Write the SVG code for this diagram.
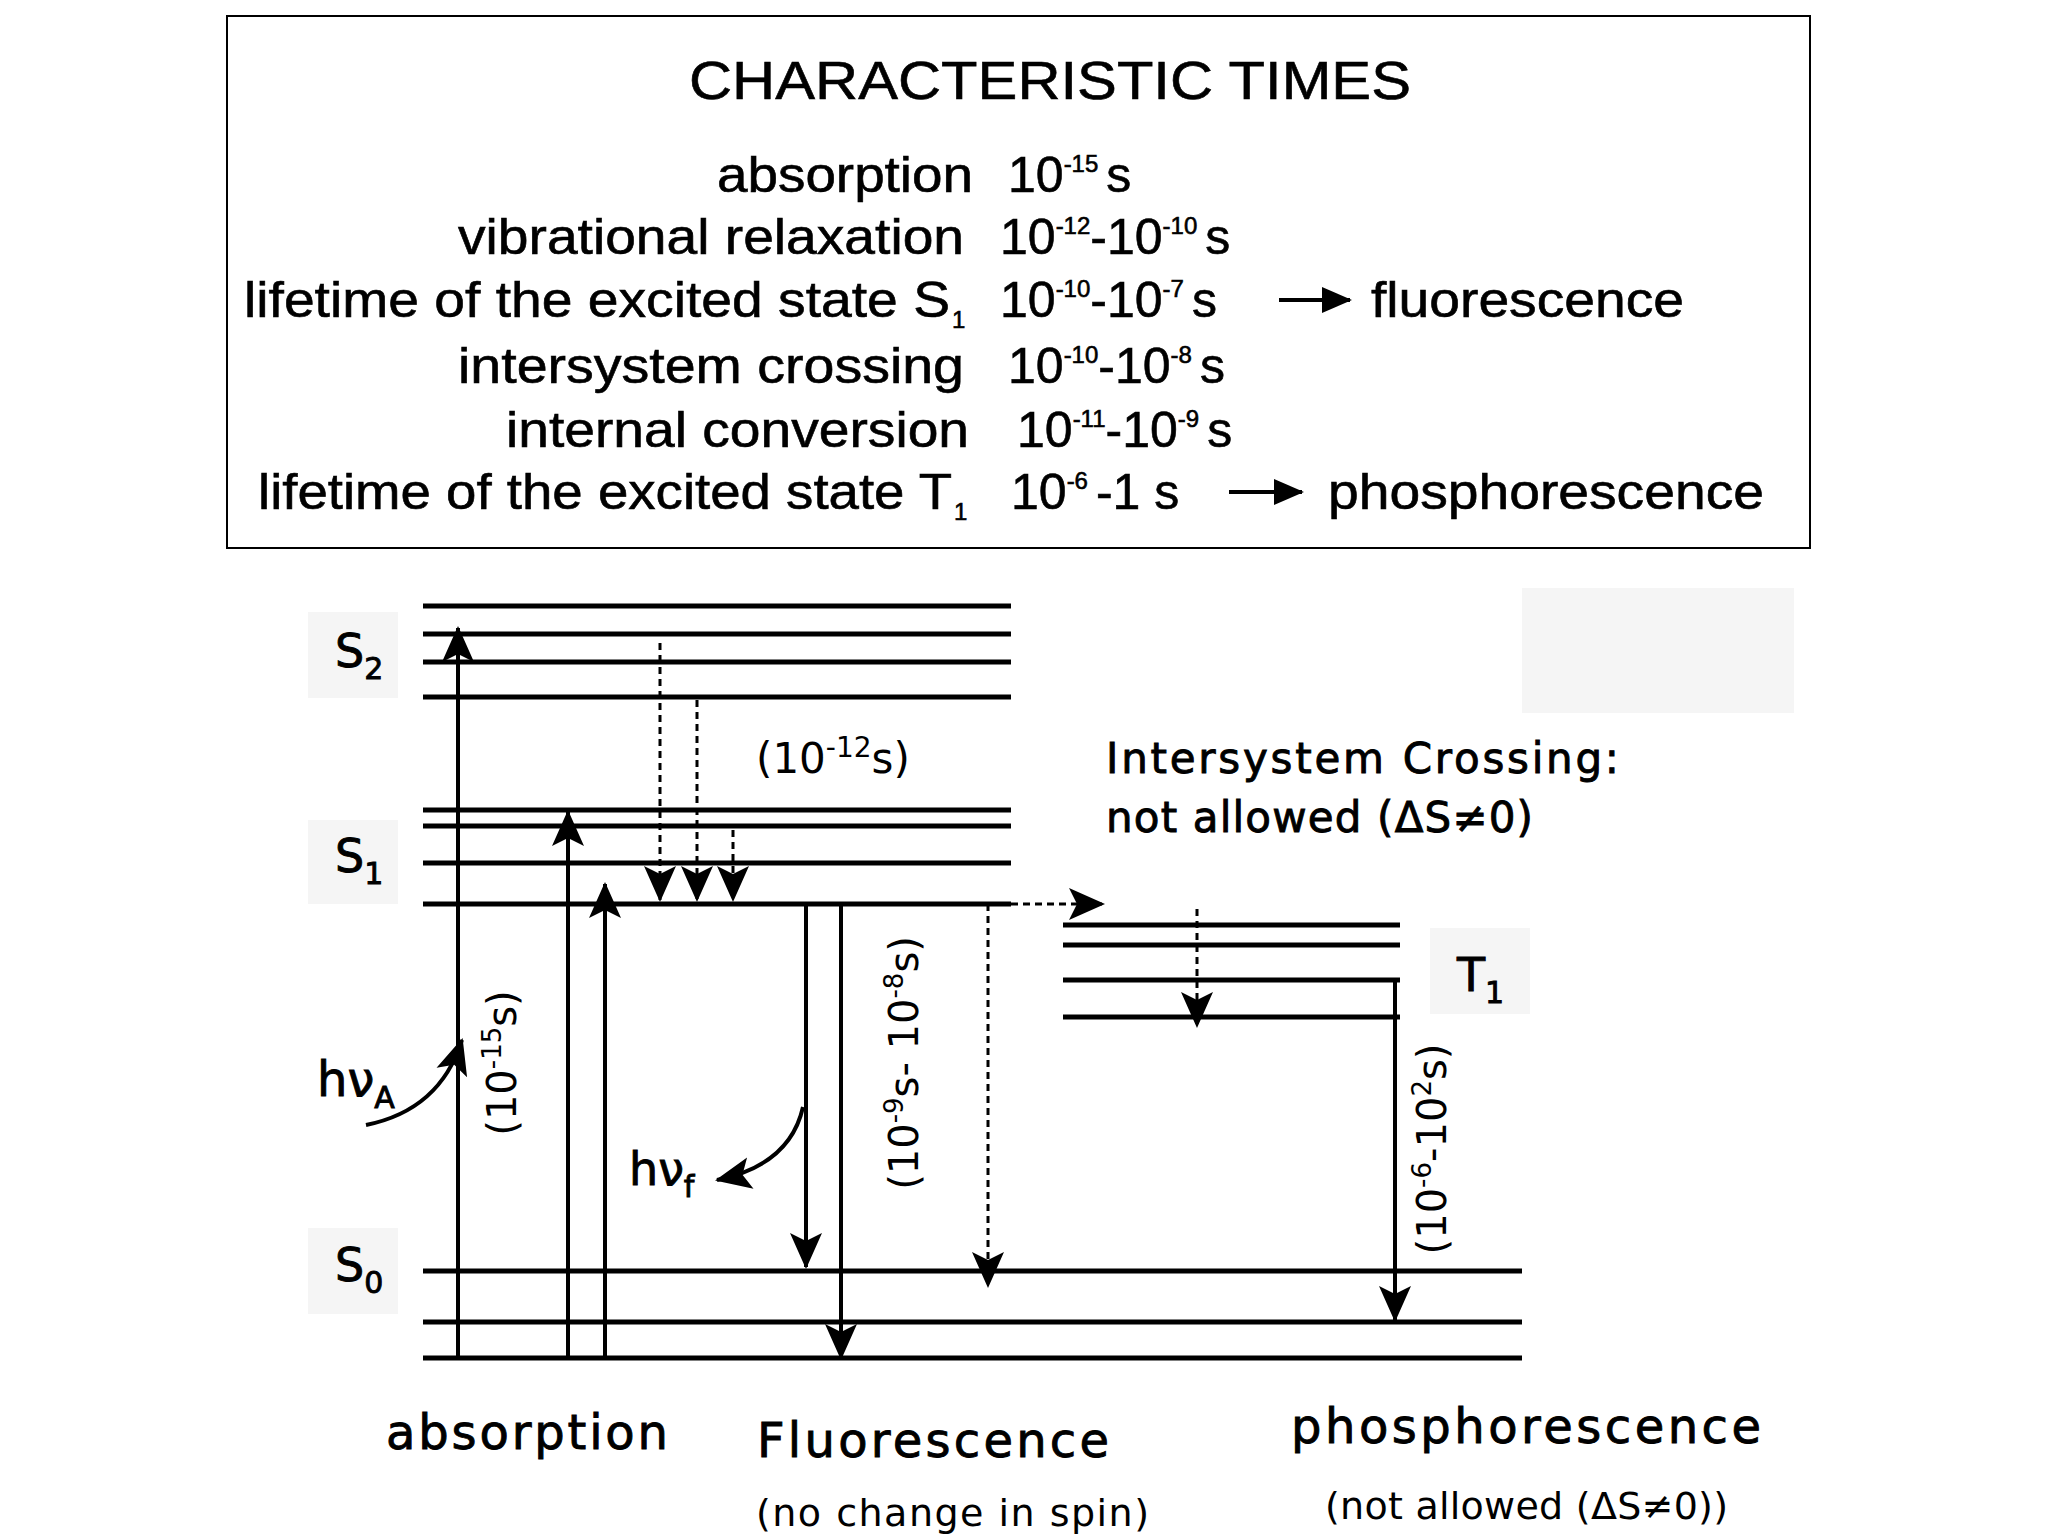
<svg xmlns="http://www.w3.org/2000/svg" width="2048" height="1536" viewBox="0 0 2048 1536">
<defs>
<style>
.t{font-family:"Liberation Sans",Arial,sans-serif;font-size:50px;fill:#000;stroke:#000;stroke-width:0.6}
.d{font-family:"DejaVu Sans",Verdana,sans-serif;fill:#000}
.b{stroke:#000;stroke-width:0.9}
.lv{stroke:#000;stroke-width:5;fill:none}
.ar{stroke:#000;stroke-width:4;fill:none}
.dt{stroke:#000;stroke-width:3;fill:none;stroke-dasharray:7 5}
.bg{fill:#f5f5f5}
</style>
<marker id="ah" viewBox="0 0 36 32" refX="34" refY="16" markerWidth="36" markerHeight="32" markerUnits="userSpaceOnUse" orient="auto" overflow="visible">
<path d="M0,0 L36,16 L0,32 L8,16 z" fill="#000"/>
</marker>
<marker id="ah2" viewBox="0 0 30 26" refX="28" refY="13" markerWidth="30" markerHeight="26" markerUnits="userSpaceOnUse" orient="auto" overflow="visible">
<path d="M0,0 L30,13 L0,26 z" fill="#000"/>
</marker>
</defs>
<rect width="2048" height="1536" fill="#fff"/>
<g id="table">
<rect x="227" y="16" width="1583" height="532" fill="none" stroke="#000" stroke-width="2"/>
<text class="t" x="689" y="99" style="font-size:54px" textLength="722" lengthAdjust="spacingAndGlyphs">CHARACTERISTIC TIMES</text>
<text class="t" x="717" y="192" textLength="256" lengthAdjust="spacingAndGlyphs">absorption</text>
<text class="t" x="1008" y="192">10<tspan font-size="24" dy="-20">-15</tspan><tspan dy="20" dx="8">s</tspan></text>
<text class="t" x="458" y="254" textLength="506" lengthAdjust="spacingAndGlyphs">vibrational relaxation</text>
<text class="t" x="1000" y="254">10<tspan font-size="24" dy="-20">-12</tspan><tspan dy="20">-10</tspan><tspan font-size="24" dy="-20">-10</tspan><tspan dy="20" dx="8">s</tspan></text>
<text class="t" x="244" y="317" textLength="706" lengthAdjust="spacingAndGlyphs">lifetime of the excited state S</text>
<text class="t" x="952" y="328" style="font-size:24px">1</text>
<text class="t" x="1000" y="317">10<tspan font-size="24" dy="-20">-10</tspan><tspan dy="20">-10</tspan><tspan font-size="24" dy="-20">-7</tspan><tspan dy="20" dx="8">s</tspan></text>
<text class="t" x="1371" y="317" textLength="313" lengthAdjust="spacingAndGlyphs">fluorescence</text>
<text class="t" x="458" y="383" textLength="506" lengthAdjust="spacingAndGlyphs">intersystem crossing</text>
<text class="t" x="1008" y="383">10<tspan font-size="24" dy="-20">-10</tspan><tspan dy="20">-10</tspan><tspan font-size="24" dy="-20">-8</tspan><tspan dy="20" dx="8">s</tspan></text>
<text class="t" x="506" y="447" textLength="463" lengthAdjust="spacingAndGlyphs">internal conversion</text>
<text class="t" x="1017" y="447">10<tspan font-size="24" dy="-20">-11</tspan><tspan dy="20">-10</tspan><tspan font-size="24" dy="-20">-9</tspan><tspan dy="20" dx="8">s</tspan></text>
<text class="t" x="258" y="509" textLength="694" lengthAdjust="spacingAndGlyphs">lifetime of the excited state T</text>
<text class="t" x="954" y="520" style="font-size:24px">1</text>
<text class="t" x="1011" y="509">10<tspan font-size="24" dy="-20">-6</tspan><tspan dy="20" dx="8">-1 s</tspan></text>
<text class="t" x="1328" y="509" textLength="436" lengthAdjust="spacingAndGlyphs">phosphorescence</text>
<line class="ar" x1="1279" y1="300" x2="1350" y2="300" stroke-width="5" marker-end="url(#ah2)"/>
<line class="ar" x1="1229" y1="492" x2="1302" y2="492" stroke-width="5" marker-end="url(#ah2)"/>
</g>
<g id="backgrounds">
<rect class="bg" x="308" y="612" width="90" height="86"/>
<rect class="bg" x="308" y="820" width="90" height="84"/>
<rect class="bg" x="308" y="1228" width="90" height="86"/>
<rect class="bg" x="1430" y="928" width="100" height="86"/>
<rect class="bg" x="1522" y="588" width="272" height="125" fill="#fafafa"/>
</g>
<g id="levels">
<line class="lv" x1="423" y1="606" x2="1011" y2="606"/>
<line class="lv" x1="423" y1="634" x2="1011" y2="634"/>
<line class="lv" x1="423" y1="662" x2="1011" y2="662"/>
<line class="lv" x1="423" y1="697" x2="1011" y2="697"/>
<line class="lv" x1="423" y1="810" x2="1011" y2="810"/>
<line class="lv" x1="423" y1="826" x2="1011" y2="826"/>
<line class="lv" x1="423" y1="863" x2="1011" y2="863"/>
<line class="lv" x1="423" y1="904" x2="1011" y2="904"/>
<line class="lv" x1="423" y1="1271" x2="1522" y2="1271"/>
<line class="lv" x1="423" y1="1322" x2="1522" y2="1322"/>
<line class="lv" x1="423" y1="1358" x2="1522" y2="1358"/>
<line class="lv" x1="1063" y1="925" x2="1400" y2="925"/>
<line class="lv" x1="1063" y1="945" x2="1400" y2="945"/>
<line class="lv" x1="1063" y1="980" x2="1400" y2="980"/>
<line class="lv" x1="1063" y1="1017" x2="1400" y2="1017"/>
</g>
<g id="labels">
<text class="d b" x="335" y="667" font-size="46">S<tspan font-size="30" dy="12">2</tspan></text>
<text class="d b" x="335" y="872" font-size="46">S<tspan font-size="30" dy="12">1</tspan></text>
<text class="d b" x="335" y="1281" font-size="46">S<tspan font-size="30" dy="12">0</tspan></text>
<text class="d b" x="1457" y="991" font-size="46">T<tspan font-size="30" dy="12">1</tspan></text>
<text class="d b" x="317" y="1096" font-size="48">hν<tspan font-size="30" dy="12">A</tspan></text>
<text class="d b" x="629" y="1185" font-size="46">hν<tspan font-size="30" dy="12">f</tspan></text>
<text class="d" x="756" y="773" font-size="42">(10<tspan font-size="28" dy="-16">-12</tspan><tspan dy="16">s)</tspan></text>
<text class="d b" x="1106" y="773" font-size="42" textLength="513">Intersystem Crossing:</text>
<text class="d b" x="1106" y="832" font-size="42" textLength="427">not allowed (ΔS≠0)</text>
<text class="d" font-size="40" transform="translate(516,1063) rotate(-90)" text-anchor="middle">(10<tspan font-size="26" dy="-15">-15</tspan><tspan dy="15">s)</tspan></text>
<text class="d" font-size="40" transform="translate(918,1063) rotate(-90)" text-anchor="middle">(10<tspan font-size="26" dy="-15">-9</tspan><tspan dy="15">s- 10</tspan><tspan font-size="26" dy="-15">-8</tspan><tspan dy="15">s)</tspan></text>
<text class="d" font-size="40" transform="translate(1446,1149) rotate(-90)" text-anchor="middle">(10<tspan font-size="26" dy="-15">-6</tspan><tspan dy="15">-10</tspan><tspan font-size="26" dy="-15">2</tspan><tspan dy="15">s)</tspan></text>
<text class="d b" x="386" y="1449" font-size="48" textLength="282">absorption</text>
<text class="d b" x="757" y="1457" font-size="48" textLength="352">Fluorescence</text>
<text class="d" x="756" y="1526" font-size="38" textLength="393">(no change in spin)</text>
<text class="d b" x="1291" y="1443" font-size="48" textLength="470">phosphorescence</text>
<text class="d" x="1325" y="1519" font-size="38" textLength="403">(not allowed (ΔS≠0))</text>
</g>
<g id="connectors">
<line class="ar" x1="458" y1="1358" x2="458" y2="628" marker-end="url(#ah)"/>
<line class="ar" x1="568" y1="1358" x2="568" y2="812" marker-end="url(#ah)"/>
<line class="ar" x1="605" y1="1358" x2="605" y2="884" marker-end="url(#ah)"/>
<path class="ar" d="M366,1125 Q440,1110 462,1040" marker-end="url(#ah)"/>
<path class="ar" d="M803,1107 Q790,1165 717,1180" marker-end="url(#ah)"/>
<line class="dt" x1="660" y1="643" x2="660" y2="900" marker-end="url(#ah)"/>
<line class="dt" x1="697" y1="700" x2="697" y2="900" marker-end="url(#ah)"/>
<line class="dt" x1="733" y1="830" x2="733" y2="900" marker-end="url(#ah)"/>
<line class="ar" x1="806" y1="904" x2="806" y2="1267" marker-end="url(#ah)"/>
<line class="ar" x1="841" y1="904" x2="841" y2="1358" marker-end="url(#ah)"/>
<line class="dt" x1="988" y1="904" x2="988" y2="1286" marker-end="url(#ah)"/>
<line class="dt" x1="1011" y1="904" x2="1103" y2="904" marker-end="url(#ah)"/>
<line class="dt" x1="1197" y1="909" x2="1197" y2="1026" marker-end="url(#ah)"/>
<line class="ar" x1="1395" y1="980" x2="1395" y2="1320" marker-end="url(#ah)"/>
</g>
</svg>
